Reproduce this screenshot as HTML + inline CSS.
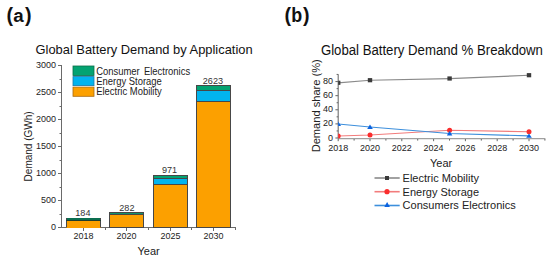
<!DOCTYPE html>
<html><head><meta charset="utf-8"><style>
html,body{margin:0;padding:0;background:#fff;width:550px;height:261px;overflow:hidden;font-family:"Liberation Sans",sans-serif;}
body{position:relative;}
</style></head><body>
<svg width="550" height="261" viewBox="0 0 550 261" style="position:absolute;left:0;top:0">
<text x="6.5" y="21.8" font-family="Liberation Sans" font-weight="bold" fill="#111" font-size="19.7">(</text>
<text transform="translate(13.2 21.8) scale(1.04 1)" font-family="Liberation Sans" font-weight="bold" fill="#111" font-size="18">a</text>
<text x="24.9" y="21.8" font-family="Liberation Sans" font-weight="bold" fill="#111" font-size="19.7">)</text>
<text x="284.6" y="21.8" font-family="Liberation Sans" font-weight="bold" fill="#111" font-size="19.7">(</text>
<text transform="translate(291.3 21.8) scale(0.9 1)" font-family="Liberation Sans" font-weight="bold" fill="#111" font-size="19.9">b</text>
<text x="303.1" y="21.8" font-family="Liberation Sans" font-weight="bold" fill="#111" font-size="19.7">)</text>
<text x="35.5" y="53.8" font-family="Liberation Sans" font-size="12.9" fill="#111">Global Battery Demand by Application</text>
<g stroke="#6a6a6a" stroke-width="1" fill="none">
<line x1="61.5" y1="65" x2="61.5" y2="228"/>
<line x1="61" y1="227.5" x2="236" y2="227.5"/>
<line x1="58" y1="65.5" x2="61" y2="65.5"/>
<line x1="58" y1="92.5" x2="61" y2="92.5"/>
<line x1="58" y1="119.5" x2="61" y2="119.5"/>
<line x1="58" y1="146.5" x2="61" y2="146.5"/>
<line x1="58" y1="173.5" x2="61" y2="173.5"/>
<line x1="58" y1="200.5" x2="61" y2="200.5"/>
<line x1="58" y1="227.5" x2="61" y2="227.5"/>
<line x1="59.5" y1="79.5" x2="61" y2="79.5"/>
<line x1="59.5" y1="106.5" x2="61" y2="106.5"/>
<line x1="59.5" y1="133.5" x2="61" y2="133.5"/>
<line x1="59.5" y1="160.5" x2="61" y2="160.5"/>
<line x1="59.5" y1="187.5" x2="61" y2="187.5"/>
<line x1="59.5" y1="214.5" x2="61" y2="214.5"/>
<line x1="83.5" y1="228" x2="83.5" y2="231"/>
<line x1="126.5" y1="228" x2="126.5" y2="231"/>
<line x1="170.5" y1="228" x2="170.5" y2="231"/>
<line x1="213.5" y1="228" x2="213.5" y2="231"/>
<line x1="105.5" y1="228" x2="105.5" y2="230"/>
<line x1="148.5" y1="228" x2="148.5" y2="230"/>
<line x1="191.5" y1="228" x2="191.5" y2="230"/>
<line x1="235.5" y1="228" x2="235.5" y2="230"/>
</g>
<g font-family="Liberation Sans" font-size="9" fill="#222" text-anchor="end">
<text transform="translate(56 68.00) scale(1 1.1)">3000</text>
<text transform="translate(56 95.00) scale(1 1.1)">2500</text>
<text transform="translate(56 122.00) scale(1 1.1)">2000</text>
<text transform="translate(56 149.00) scale(1 1.1)">1500</text>
<text transform="translate(56 176.00) scale(1 1.1)">1000</text>
<text transform="translate(56 203.00) scale(1 1.1)">500</text>
<text transform="translate(56 230.00) scale(1 1.1)">0</text>
</g>
<g font-family="Liberation Sans" font-size="9" fill="#222" text-anchor="middle">
<text transform="translate(83.50 239.4) scale(1 1.1)">2018</text>
<text transform="translate(126.50 239.4) scale(1 1.1)">2020</text>
<text transform="translate(170.50 239.4) scale(1 1.1)">2025</text>
<text transform="translate(213.50 239.4) scale(1 1.1)">2030</text>
</g>
<text x="148.6" y="255" font-family="Liberation Sans" font-size="11" fill="#222" text-anchor="middle">Year</text>
<text transform="translate(32.2 146.4) rotate(-90)" font-family="Liberation Sans" font-size="10" fill="#222" text-anchor="middle">Demand (GWh)</text>
<rect x="66" y="218" width="35" height="3" fill="#0b6e50"/>
<rect x="66" y="220" width="35" height="8" fill="#fca000"/>
<path d="M66.5,218 V227.5 M100.5,218 V227.5" stroke="#474747" stroke-width="1"/>
<line x1="66" y1="220.5" x2="101" y2="220.5" stroke="#1e3d2e" stroke-width="1"/>
<rect x="109" y="212" width="35" height="3" fill="#12946a"/>
<rect x="109" y="214" width="35" height="14" fill="#fca000"/>
<rect x="109.5" y="212.5" width="34" height="15" fill="none" stroke="#474747" stroke-width="1"/>
<line x1="109" y1="214.5" x2="144" y2="214.5" stroke="#474747" stroke-width="1"/>
<rect x="153" y="175" width="35" height="4" fill="#03a372"/>
<rect x="153" y="178" width="35" height="7" fill="#02b4ee"/>
<rect x="153" y="184" width="35" height="44" fill="#fca000"/>
<rect x="153.5" y="175.5" width="34" height="52" fill="none" stroke="#474747" stroke-width="1"/>
<line x1="153" y1="178.5" x2="188" y2="178.5" stroke="#474747" stroke-width="1"/>
<line x1="153" y1="184.5" x2="188" y2="184.5" stroke="#474747" stroke-width="1"/>
<rect x="196" y="85" width="35" height="6" fill="#03a372"/>
<rect x="196" y="90" width="35" height="12" fill="#02b4ee"/>
<rect x="196" y="101" width="35" height="127" fill="#fca000"/>
<rect x="196.5" y="85.5" width="34" height="142" fill="none" stroke="#474747" stroke-width="1"/>
<line x1="196" y1="90.5" x2="231" y2="90.5" stroke="#474747" stroke-width="1"/>
<line x1="196" y1="101.5" x2="231" y2="101.5" stroke="#474747" stroke-width="1"/>
<g font-family="Liberation Sans" font-size="9.1" fill="#333" text-anchor="middle">
<text transform="translate(82.90 216.0) scale(1 1.08)">184</text>
<text transform="translate(126.90 211.0) scale(1 1.08)">282</text>
<text transform="translate(169.60 173.3) scale(1 1.08)">971</text>
<text transform="translate(212.90 84.3) scale(1 1.08)">2623</text>
</g>
<rect x="73" y="66" width="21" height="9.5" fill="#03a372" stroke="#0b6e48" stroke-width="0.8"/>
<rect x="73" y="76.6" width="21" height="9" fill="#02b4ee" stroke="#1a7aa8" stroke-width="0.8"/>
<rect x="73" y="87.1" width="21" height="9.2" fill="#fca000" stroke="#a86a10" stroke-width="0.8"/>
<g font-family="Liberation Sans" font-size="9.45" fill="#222">
<text transform="translate(96.2 74.8) scale(1 1.1)" word-spacing="1.6">Consumer Electronics</text>
<text transform="translate(96.2 85.0) scale(1 1.1)">Energy Storage</text>
<text transform="translate(96.2 95.1) scale(1 1.1)">Electric Mobility</text>
</g>
<text transform="translate(320.9 55.1) scale(1 1.08)" font-family="Liberation Sans" font-size="13.2" fill="#111">Global Battery Demand % Breakdown</text>
<defs><clipPath id="pc"><rect x="338.2" y="60" width="210" height="80"/></clipPath></defs>
<line x1="338" y1="138.6" x2="545.40" y2="138.6" stroke="#a0a0a0" stroke-width="1.3"/>
<g stroke="#666" stroke-width="1" fill="none">
<line x1="338.20" y1="139" x2="338.20" y2="141.20"/>
<line x1="354.10" y1="139" x2="354.10" y2="140.60"/>
<line x1="370.00" y1="139" x2="370.00" y2="141.20"/>
<line x1="385.90" y1="139" x2="385.90" y2="140.60"/>
<line x1="401.80" y1="139" x2="401.80" y2="141.20"/>
<line x1="417.70" y1="139" x2="417.70" y2="140.60"/>
<line x1="433.60" y1="139" x2="433.60" y2="141.20"/>
<line x1="449.50" y1="139" x2="449.50" y2="140.60"/>
<line x1="465.40" y1="139" x2="465.40" y2="141.20"/>
<line x1="481.30" y1="139" x2="481.30" y2="140.60"/>
<line x1="497.20" y1="139" x2="497.20" y2="141.20"/>
<line x1="513.10" y1="139" x2="513.10" y2="140.60"/>
<line x1="529.00" y1="139" x2="529.00" y2="141.20"/>
<line x1="544.90" y1="139" x2="544.90" y2="140.60"/>
</g>
<g stroke="#707070" stroke-width="1.1" fill="none">
<line x1="338.2" y1="74.2" x2="338.2" y2="138.6"/>
<line x1="335.4" y1="138.00" x2="338.2" y2="138.00"/>
<line x1="335.4" y1="123.88" x2="338.2" y2="123.88"/>
<line x1="335.4" y1="109.76" x2="338.2" y2="109.76"/>
<line x1="335.4" y1="95.64" x2="338.2" y2="95.64"/>
<line x1="335.4" y1="81.52" x2="338.2" y2="81.52"/>
<line x1="336.6" y1="130.94" x2="338.2" y2="130.94"/>
<line x1="336.6" y1="116.82" x2="338.2" y2="116.82"/>
<line x1="336.6" y1="102.70" x2="338.2" y2="102.70"/>
<line x1="336.6" y1="88.58" x2="338.2" y2="88.58"/>
<line x1="336.6" y1="74.46" x2="338.2" y2="74.46"/>
</g>
<g font-family="Liberation Sans" font-size="9" fill="#222" text-anchor="end">
<text transform="translate(333 140.60) scale(1 1.1)">0</text>
<text transform="translate(333 126.48) scale(1 1.1)">20</text>
<text transform="translate(333 112.36) scale(1 1.1)">40</text>
<text transform="translate(333 98.24) scale(1 1.1)">60</text>
<text transform="translate(333 84.12) scale(1 1.1)">80</text>
</g>
<g font-family="Liberation Sans" font-size="9" fill="#222" text-anchor="middle">
<text transform="translate(338.20 150.7) scale(1 1.1)">2018</text>
<text transform="translate(370.00 150.7) scale(1 1.1)">2020</text>
<text transform="translate(401.80 150.7) scale(1 1.1)">2022</text>
<text transform="translate(433.60 150.7) scale(1 1.1)">2024</text>
<text transform="translate(465.40 150.7) scale(1 1.1)">2026</text>
<text transform="translate(497.20 150.7) scale(1 1.1)">2028</text>
<text transform="translate(529.00 150.7) scale(1 1.1)">2030</text>
</g>
<text x="441.1" y="166.9" font-family="Liberation Sans" font-size="11" fill="#222" text-anchor="middle">Year</text>
<text transform="translate(319.5 105.8) rotate(-90)" font-family="Liberation Sans" font-size="11.1" fill="#222" text-anchor="middle">Demand share (%)</text>
<g clip-path="url(#pc)">
<polyline points="338.20,136.00 370.00,135.00 449.60,130.20 529.00,131.80" fill="none" stroke="#f27c7c" stroke-width="1.1"/>
<polyline points="338.20,124.00 370.00,127.00 449.60,133.50 529.00,135.90" fill="none" stroke="#3d8fdc" stroke-width="1.1"/>
<polyline points="338.20,82.90 370.00,80.30 449.60,78.60 529.00,75.30" fill="none" stroke="#8a8a8a" stroke-width="1.1"/>
<rect x="336.00" y="80.70" width="4.4" height="4.2" fill="#3a3a3a"/>
<rect x="367.80" y="78.10" width="4.4" height="4.2" fill="#3a3a3a"/>
<rect x="447.40" y="76.40" width="4.4" height="4.2" fill="#3a3a3a"/>
<rect x="526.80" y="73.10" width="4.4" height="4.2" fill="#3a3a3a"/>
<circle cx="338.20" cy="136.00" r="2.5" fill="#fa2d2d"/>
<circle cx="370.00" cy="135.00" r="2.5" fill="#fa2d2d"/>
<circle cx="449.60" cy="130.20" r="2.5" fill="#fa2d2d"/>
<circle cx="529.00" cy="131.80" r="2.5" fill="#fa2d2d"/>
<path d="M335.40,125.90 L341.00,125.90 L338.20,121.50 Z" fill="#0b62e0"/>
<path d="M367.20,128.90 L372.80,128.90 L370.00,124.50 Z" fill="#0b62e0"/>
<path d="M446.80,135.40 L452.40,135.40 L449.60,131.00 Z" fill="#0b62e0"/>
<path d="M526.20,137.80 L531.80,137.80 L529.00,133.40 Z" fill="#0b62e0"/>
</g>
<line x1="374.5" y1="178" x2="399.7" y2="178" stroke="#8a8a8a" stroke-width="1.6"/>
<rect x="385" y="176" width="4" height="4" fill="#3a3a3a"/>
<line x1="374.5" y1="191.7" x2="399.7" y2="191.7" stroke="#f27c7c" stroke-width="1.6"/>
<circle cx="387" cy="191.7" r="2.6" fill="#fa2d2d"/>
<line x1="374.5" y1="205.5" x2="399.7" y2="205.5" stroke="#3d8fdc" stroke-width="1.6"/>
<path d="M384.3,206.9 L389.9,206.9 L387.1,202.1 Z" fill="#0b62e0"/>
<g font-family="Liberation Sans" font-size="11" fill="#222">
<text x="402.6" y="182.1">Electric Mobility</text>
<text x="402.6" y="195.9">Energy Storage</text>
<text x="402.6" y="209.4">Consumers Electronics</text>
</g>
</svg>
</body></html>
